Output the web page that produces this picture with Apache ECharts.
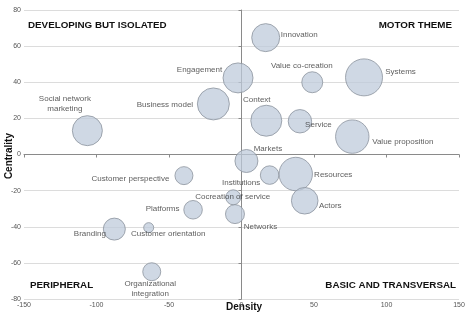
<!DOCTYPE html>
<html>
<head>
<meta charset="utf-8">
<script src="https://cdn.jsdelivr.net/npm/echarts@6/dist/echarts.min.js"></script>
<style>html,body{margin:0;padding:0;background:#fff;}#c{width:474px;height:322px;}</style>
</head>
<body>
<div id="c"></div>
<script>
// ---- data ----
var themes = ['Innovation','Engagement','Value co-creation','Systems','Context','Service','Value proposition','Markets','Institutions','Resources','Actors','Cocreation of service','Networks','Customer perspective','Platforms','Branding','Customer orientation','Organizational integration','Social network marketing','Business model'];
var density = [16.7, -2.4, 48.8, 84.5, 17.1, 40.3, 76.4, 3.4, 19.4, 37.4, 43.6, -5.7, -4.5, -39.7, -33.4, -87.7, -64, -61.9, -106.3, -19.4];
var centrality = [64.7, 42.4, 40, 42.7, 18.7, 18.4, 9.9, -3.6, -11.4, -10.8, -25.6, -23.7, -33, -11.7, -30.6, -41.3, -40.5, -64.9, 13.2, 28];
var weight = [196, 225, 110, 342, 240, 137, 279, 132, 86, 279, 177, 56, 90, 81, 86, 121, 25, 81, 225, 256];
var xTicks = [-150, -100, -50, 0, 50, 100, 150];
var yTicks = [-80, -60, -40, -20, 0, 20, 40, 60, 80];

// ---- label styling (offset of label centre from bubble centre, px) ----
var labelOffset = {
  'Innovation':[34,-2], 'Engagement':[-38,-8], 'Value co-creation':[-10,-16], 'Systems':[37,-5],
  'Context':[-9,-20], 'Service':[19,4], 'Value proposition':[51,6], 'Markets':[22,-12],
  'Institutions':[-28,8], 'Resources':[38,1], 'Actors':[26,6], 'Cocreation of service':[0,0],
  'Networks':[26,13], 'Customer perspective':[-53,4], 'Platforms':[-30,0], 'Branding':[-24,5],
  'Customer orientation':[20,7], 'Organizational integration':[-1,18], 'Social network marketing':[-22,-26],
  'Business model':[-48,1]
};
var labelText = {
  'Organizational integration':'Organizational\nintegration',
  'Social network marketing':'Social network\nmarketing'
};
function sizeOf(w){ return 2*Math.sqrt(w); }

var data = themes.map(function(n,i){
  var r = sizeOf(weight[i])/2, o = labelOffset[n];
  return {
    name:n,
    value:[density[i], centrality[i], weight[i]],
    label:{position:[r+o[0], r+o[1]], align:'center', verticalAlign:'middle'}
  };
});

var font = 'Liberation Sans, Arial, sans-serif';
var chart = echarts.init(document.getElementById('c'));
chart.setOption({
  animation:false,
  backgroundColor:'#fff',
  grid:{left:24,right:15,top:10,bottom:23,containLabel:false},
  xAxis:{
    type:'value', min:xTicks[0], max:xTicks[xTicks.length-1], interval:50,
    axisLine:{show:true,onZero:true,lineStyle:{color:'#8a8a8a',width:1}},
    axisTick:{show:true,length:3,lineStyle:{color:'#8a8a8a'}},
    axisLabel:{fontSize:7,color:'#555',margin:3,fontFamily:font},
    splitLine:{show:false}
  },
  yAxis:{
    type:'value', min:yTicks[0], max:yTicks[yTicks.length-1], interval:20,
    axisLine:{show:true,onZero:true,lineStyle:{color:'#8a8a8a',width:1}},
    axisTick:{show:true,length:3,lineStyle:{color:'#8a8a8a'}},
    axisLabel:{fontSize:7,color:'#555',margin:3,fontFamily:font},
    splitLine:{show:true,lineStyle:{color:'#dcdcdc',width:1}}
  },
  series:[{
    type:'scatter',
    data:data,
    symbolSize:function(v){return sizeOf(v[2]);},
    itemStyle:{color:'rgba(190,202,218,0.92)',borderColor:'#8c939e',borderWidth:1},
    label:{
      show:true, color:'#333', fontSize:8, fontFamily:font, lineHeight:10,
      formatter:function(p){return labelText[p.name]||p.name;}
    },
    labelLayout:{hideOverlap:false},
    emphasis:{disabled:true}
  }],
  graphic:[
    {type:'text',left:28,top:20,style:{text:'DEVELOPING BUT ISOLATED',font:'bold 9.8px '+font,fill:'#111'}},
    {type:'text',right:22,top:20,style:{text:'MOTOR THEME',font:'bold 9.8px '+font,fill:'#111'}},
    {type:'text',left:30,top:280,style:{text:'PERIPHERAL',font:'bold 9.8px '+font,fill:'#111'}},
    {type:'text',right:18,top:280,style:{text:'BASIC AND TRANSVERSAL',font:'bold 9.8px '+font,fill:'#111'}},
    {type:'text',left:226,top:302,style:{text:'Density',font:'bold 10px '+font,fill:'#111'}},
    {type:'text',left:4,top:133,rotation:Math.PI/2,style:{text:'Centrality',font:'bold 10px '+font,fill:'#111'}}
  ]
});
</script>
</body>
</html>
